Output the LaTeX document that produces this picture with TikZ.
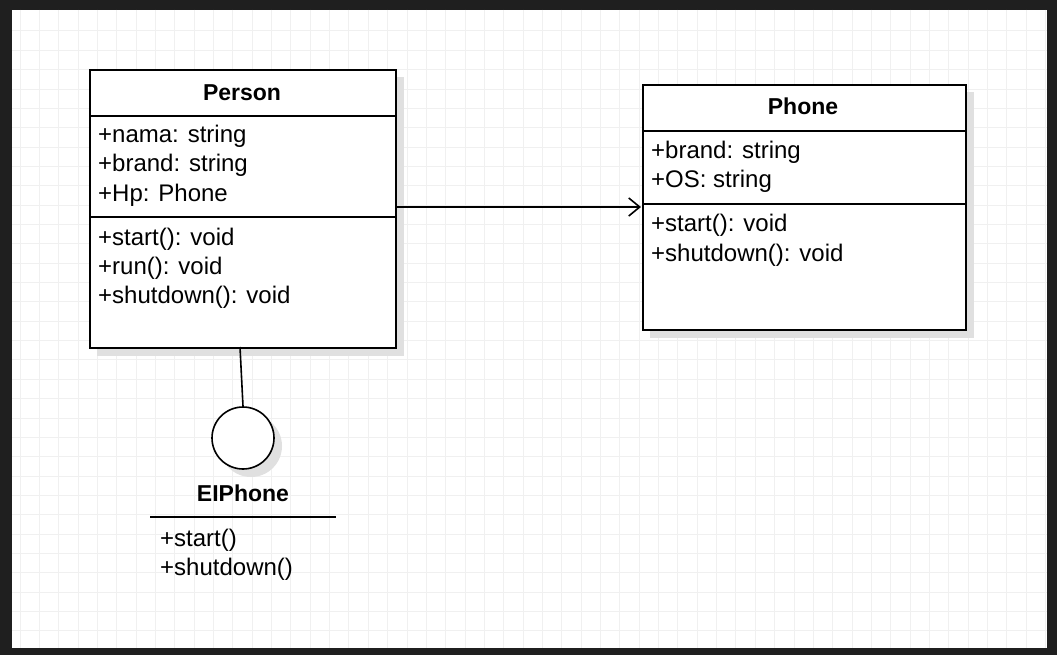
\documentclass[tikz,border=0pt]{standalone}
\usepackage{fontspec}
\setmainfont{Liberation Sans}
\usetikzlibrary{arrows.meta}

\begin{document}
\begin{tikzpicture}[x=1pt, y=-1pt,
  cls/.style={draw, line width=1.6pt, fill=white, anchor=north west, inner sep=0pt},
  sep/.style={line width=1.6pt},
  shade/.style={fill=black!12, draw=none},
  title/.style={anchor=base, inner sep=0pt, font=\fontsize{23}{26}\selectfont\bfseries},
  member/.style={anchor=base west, inner sep=0pt, font=\fontsize{24}{28}\selectfont},
  wire/.style={line width=1.6pt}
]
% Frame and grid
\fill[black!88] (0,0) rectangle (1057,655);
\fill[white] (12,10) rectangle (1047,648);
\begin{scope}
\clip (12,10) rectangle (1047,648);
\foreach \i in {0,...,53}
  \draw[black!6, line width=1pt] (20+19.35*\i,10) -- (20+19.35*\i,648);
\foreach \j in {0,...,32}
  \draw[black!6, line width=1pt] (12,31+19.35*\j) -- (1047,31+19.35*\j);
\end{scope}

% Shadows
\fill[shade] (97,77) rectangle (404,356);
\fill[shade] (650,92) rectangle (974,338);
\fill[shade] (251,446) circle (31);

% Person
\node[cls, minimum width=306pt, minimum height=278pt] (person) at (89,69) {};
\draw[sep] (89,116) -- (395,116);
\draw[sep] (89,217) -- (395,217);
\node[title] (personT) at (242,101) {Person};
\node[member] (personA1) at (98,143) {+nama: string};
\node[member] (personA2) at (98,172) {+brand: string};
\node[member] (personA3) at (98,201) {+Hp: Phone};
\node[member] (personM1) at (98,245) {+start(): void};
\node[member] (personM2) at (98,274) {+run(): void};
\node[member] (personM3) at (98,303) {+shutdown(): void};

% Phone
\node[cls, minimum width=323pt, minimum height=245pt] (phone) at (642,84) {};
\draw[sep] (642,131) -- (965,131);
\draw[sep] (642,204) -- (965,204);
\node[title] (phoneT) at (803,115) {Phone};
\node[member] (phoneA1) at (651,159) {+brand: string};
\node[member] (phoneA2) at (651,188) {+OS: string};
\node[member] (phoneM1) at (651,232) {+start(): void};
\node[member] (phoneM2) at (651,261) {+shutdown(): void};

% Association
\coordinate (src) at (397,207);
\coordinate (dst) at (641,207);
\draw[wire, -{Straight Barb[length=11pt, width=18pt]}] (src) -- (dst);

% Interface
\node[draw, line width=1.6pt, circle, fill=white, minimum size=62pt, inner sep=0pt] (iface) at (243,438) {};
\coordinate (ptop) at (240,347);
\draw[wire] (ptop) -- (iface.north);
\node[title] (ifaceT) at (243,501) {EIPhone};
\draw[sep] (150,517) -- (336,517);
\node[member] (ifaceM1) at (160,546) {+start()};
\node[member] (ifaceM2) at (160,575) {+shutdown()};
\end{tikzpicture}
\end{document}
